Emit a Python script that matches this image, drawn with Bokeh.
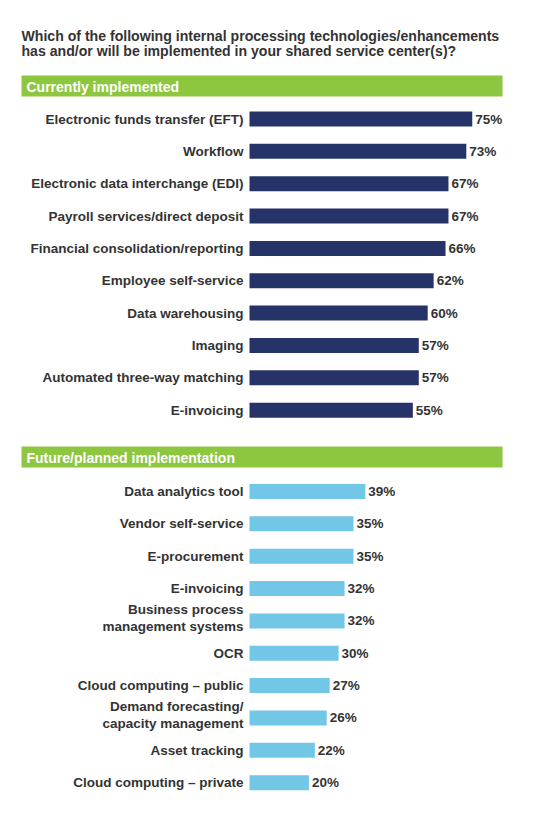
from bokeh.plotting import figure
from bokeh.models import Range1d, ColumnDataSource
from bokeh.core.properties import value
from bokeh.embed import file_html
from bokeh.resources import INLINE

# --- data ---
title_lines = [
    "Which of the following internal processing technologies/enhancements",
    "has and/or will be implemented in your shared service center(s)?",
]
current_header = "Currently implemented"
current_labels = [
    "Electronic funds transfer (EFT)",
    "Workflow",
    "Electronic data interchange (EDI)",
    "Payroll services/direct deposit",
    "Financial consolidation/reporting",
    "Employee self-service",
    "Data warehousing",
    "Imaging",
    "Automated three-way matching",
    "E-invoicing",
]
current_values = [75, 73, 67, 67, 66, 62, 60, 57, 57, 55]

future_header = "Future/planned implementation"
future_labels = [
    "Data analytics tool",
    "Vendor self-service",
    "E-procurement",
    "E-invoicing",
    "Business process\nmanagement systems",
    "OCR",
    "Cloud computing \u2013 public",
    "Demand forecasting/\ncapacity management",
    "Asset tracking",
    "Cloud computing \u2013 private",
]
future_values = [39, 35, 35, 32, 32, 30, 27, 26, 22, 20]

# --- style ---
FONT = value("Liberation Sans")
TXT = "#333333"
GREEN = "#8dc63f"
NAVY = "#263369"
LIGHT = "#72c6e6"

W, H = 534, 806
PX_PER_PCT = 2.97
ZERO_X = 249  # screen pixel where 0% sits


def px(xs):
    # screen pixel -> percent units of the x scale
    return (xs - ZERO_X) / PX_PER_PCT


p = figure(width=W, height=H, output_backend="svg", toolbar_location=None,
           x_range=Range1d(px(0), px(W)), y_range=Range1d(H, 0),
           min_border=0, outline_line_color=None)
p.axis.visible = False
p.grid.visible = False
p.background_fill_color = "white"
p.border_fill_color = "white"

# title
p.text(x=[px(21)] * 2, y=[35, 50], text=title_lines, text_font=FONT,
       text_font_style="bold", text_font_size="14.1px", text_color=TXT,
       text_baseline="alphabetic")


def section(labels, values, band_top, first_y, color, header):
    p.quad(left=px(21), right=px(502), top=band_top, bottom=band_top + 21,
           fill_color=GREEN, line_color=None)
    p.text(x=[px(26)], y=[band_top + 11], text=[header], text_font=FONT,
           text_font_style="bold", text_font_size="14px", text_color="white",
           text_baseline="middle")
    ys = [first_y + i * 32.35 for i in range(len(values))]
    src = ColumnDataSource(dict(y=ys, v=values,
                                pct=[f"{v}%" for v in values]))
    p.hbar(y="y", left=0, right="v", height=15, source=src,
           fill_color=color, line_color=None)
    p.text(x="v", y="y", text="pct", source=src, x_offset=3, text_font=FONT,
           text_font_style="bold", text_font_size="13.5px", text_color=TXT,
           text_baseline="middle")
    # category labels; two-line ones sit a little higher
    for multi, dy in ((False, 0), (True, -3)):
        idx = [i for i, lab in enumerate(labels) if ("\n" in lab) == multi]
        if not idx:
            continue
        p.text(x=px(243), y=[ys[i] for i in idx], text=[labels[i] for i in idx],
               y_offset=dy, text_font=FONT, text_font_style="bold",
               text_font_size="13.5px", text_color=TXT, text_align="right",
               text_baseline="middle", text_line_height=1.18)


section(current_labels, current_values, 75, 118.5, NAVY, current_header)
section(future_labels, future_values, 446, 491, LIGHT, future_header)

open("out.html", "w").write(file_html(p, INLINE))
